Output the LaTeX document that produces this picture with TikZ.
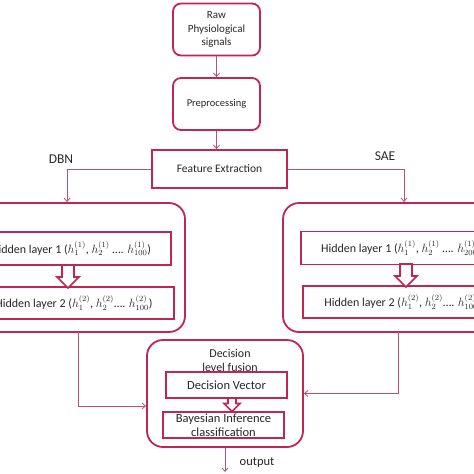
\documentclass[tikz,border=0pt]{standalone}
\usepackage{fontspec}
\setmainfont{Carlito}
\usetikzlibrary{arrows.meta,calc}
\definecolor{bord}{RGB}{192,38,84}
\definecolor{thinc}{RGB}{178,84,118}
\definecolor{txt}{RGB}{40,40,40}
\begin{document}
\begin{tikzpicture}[x=1pt,y=-1pt,
  box/.style={draw=bord,line width=1.8pt,inner sep=0pt,text=txt,align=center},
  rbox/.style={box,rounded corners=8pt},
  bigbox/.style={box,rounded corners=16pt},
  arr/.style={draw=thinc,line width=0.8pt,-{Straight Barb[length=3.5pt,width=6pt]}},
  ln/.style={draw=thinc,line width=0.8pt},
  hollow/.style={draw=bord,line width=1.6pt,fill=white,line join=miter},
  lbl/.style={text=txt,inner sep=0pt}]
\useasboundingbox (0,0) rectangle (474,474);
\clip (0,0) rectangle (474,474);
\fill[white] (0,0) rectangle (474,474);

\node[rbox,minimum width=87pt,minimum height=52pt,font=\fontsize{11}{13.5}\selectfont] (raw) at (216.5,29.5) {Raw\\Physiological\\signals};
\node[rbox,minimum width=87pt,minimum height=52pt,font=\fontsize{10.5}{13}\selectfont] (pre) at (216.5,104) {Preprocessing};
\node[box,minimum width=135pt,minimum height=38pt,font=\fontsize{11.5}{14}\selectfont] (fe) at (219.5,169) {Feature Extraction};

\node[lbl,font=\fontsize{13.5}{16}\selectfont] (dbnl) at (61,159) {DBN};
\node[lbl,font=\fontsize{13.5}{16}\selectfont] (sael) at (385,156) {SAE};

\node[bigbox,minimum width=230pt,minimum height=129pt] (dbn) at (70,267.5) {};
\node[bigbox,minimum width=230pt,minimum height=129pt] (sae) at (398,267.5) {};

\node[box,minimum width=200pt,minimum height=33pt,font=\fontsize{12}{14}\selectfont] (h1l) at (71,248.5) {Hidden layer 1 ($h_1^{(1)}$, $h_2^{(1)}$ \ldots. $h_{100}^{(1)}$)};
\node[box,minimum width=200pt,minimum height=32pt,font=\fontsize{12}{14}\selectfont] (h2l) at (74,303) {Hidden layer 2 ($h_1^{(2)}$, $h_2^{(2)}$\ldots. $h_{100}^{(2)}$)};
\node[box,minimum width=200pt,minimum height=33pt,font=\fontsize{12}{14}\selectfont] (h1r) at (401,248) {Hidden layer 1 ($h_1^{(1)}$, $h_2^{(1)}$ \ldots. $h_{200}^{(1)}$)};
\node[box,minimum width=200pt,minimum height=32pt,font=\fontsize{12}{14}\selectfont] (h2r) at (403,302) {Hidden layer 2 ($h_1^{(2)}$, $h_2^{(2)}$\ldots. $h_{100}^{(2)}$)};

\node[bigbox,minimum width=156pt,minimum height=107pt] (fus) at (225,393.5) {};
\node[lbl,align=center,font=\fontsize{12}{14}\selectfont] (fust) at (230,360) {Decision\\level fusion};
\node[box,minimum width=121pt,minimum height=26pt,font=\fontsize{12.5}{14}\selectfont] (dv) at (226.5,385) {Decision Vector};
\node[box,minimum width=121pt,minimum height=26pt,font=\fontsize{12.5}{13.5}\selectfont] (bay) at (223.5,425) {Bayesian Inference\\classification};

\node[lbl,font=\fontsize{12.5}{15}\selectfont] (outl) at (257,463) {output};

% connectors
\draw[arr] (raw.south) -- (pre.north);
\draw[arr] (pre.south -| raw.south) -- (fe.north -| raw.south);
\coordinate (dl) at (67,169);
\coordinate (dr) at (404,169);
\draw[ln] (fe.west) -- (dl);
\draw[arr] (dl) -- (dl |- dbn.north);
\draw[ln] (fe.east) -- (dr);
\draw[arr] (dr) -- (dr |- sae.north);
\coordinate (bl) at (78,332);
\coordinate (br) at (398,332);
\draw[arr] (bl) |- ([yshift=-12.5pt]fus.west);
\draw[arr] (br) |- (fus.east);
\coordinate (out) at (225,472);
\draw[arr] (fus.south) -- (out);

% hollow arrows
\newcommand{\hollowarr}[7]{% x, ytop, ybottom, shaft half, head half, head start
  \draw[hollow] (#1-#4,#2) -- (#1+#4,#2) -- (#1+#4,#6) -- (#1+#5,#6) -- (#1,#3) -- (#1-#5,#6) -- (#1-#4,#6) -- cycle;}
\hollowarr{68}{265}{288}{6}{11}{277}{}
\hollowarr{406}{264}{287}{6}{11}{276}{}
\hollowarr{232}{398}{411.5}{4}{8}{403.5}{}
\end{tikzpicture}
\end{document}
